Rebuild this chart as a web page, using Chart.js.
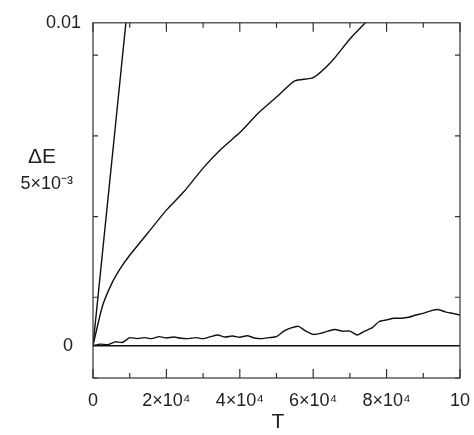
<!DOCTYPE html>
<html>
<head>
<script src="https://cdn.jsdelivr.net/npm/chart.js@4"></script>
<style>body{margin:0;background:#fff}#wrap{width:474px;height:435px}</style>
</head>
<body>
<div id="wrap"><canvas id="c"></canvas></div>
<script>
// bottom noisy series, T step 2000
const lowT = [];
for (let i = 0; i <= 50; i++) lowT.push(i * 2000);
const lowE = [0, 0.00005, 0.00003, 0.00012, 0.0001, 0.00025, 0.00022, 0.00025, 0.00022, 0.00028,
  0.00024, 0.00027, 0.00023, 0.00022, 0.00025, 0.00022, 0.00028, 0.00033, 0.00027, 0.0003,
  0.00026, 0.00031, 0.00024, 0.00022, 0.00025, 0.00028, 0.00045, 0.00055, 0.0006, 0.00045,
  0.00035, 0.00038, 0.00045, 0.0005, 0.00045, 0.00045, 0.00033, 0.00045, 0.00055, 0.00075,
  0.0008, 0.00085, 0.00085, 0.00088, 0.00095, 0.001, 0.00108, 0.00112, 0.00105, 0.001, 0.00095];
const midT = [0, 2500, 5000, 7500, 10000, 15000, 20000, 25000, 30000, 35000, 40000, 45000, 50000, 55000, 60000, 65000, 70000, 75000, 80000];
const midE = [0, 0.0012, 0.0019, 0.0024, 0.0028, 0.0035, 0.0042, 0.0048, 0.0055, 0.0061, 0.0066, 0.0072, 0.0077, 0.0082, 0.0083, 0.0088, 0.0095, 0.0101, 0.0108];
const steepT = [0, 9500];
const steepE = [0, 0.0106];
const zeroT = [0, 100000];
const zeroE = [0, 0];
const xTicks = [0, 20000, 40000, 60000, 80000, 100000];
const xLabels = ['0', '2×10⁴', '4×10⁴', '6×10⁴', '8×10⁴', '10'];
const yTicks = [0, 0.005];
const yLabels = ['0', '5×10⁻³'];
const yTopLabel = '0.01';

const pts = (xs, ys) => xs.map((x, i) => ({x: x, y: ys[i]}));
const line = (xs, ys) => ({data: pts(xs, ys), borderColor: '#111', borderWidth: 1.4, pointRadius: 0, tension: 0.2});

const frame = {
  id: 'frame',
  afterDraw(chart) {
    const {ctx, chartArea: a, scales: {x, y}} = chart;
    ctx.save();
    ctx.strokeStyle = '#333';
    ctx.lineWidth = 1.2;
    ctx.strokeRect(a.left, a.top, a.right - a.left, a.bottom - a.top);
    for (let v = 0; v <= 100000; v += 10000) {
      const px = x.getPixelForValue(v), len = v % 20000 === 0 ? 9 : 5;
      ctx.beginPath();
      ctx.moveTo(px, a.bottom); ctx.lineTo(px, a.bottom - len);
      ctx.moveTo(px, a.top); ctx.lineTo(px, a.top + len);
      ctx.stroke();
    }
    for (let v = -0.001; v <= 0.01; v += 0.0025) {
      const py = y.getPixelForValue(v), len = Math.abs(v / 0.005 - Math.round(v / 0.005)) < 1e-6 ? 9 : 5;
      ctx.beginPath();
      ctx.moveTo(a.left, py); ctx.lineTo(a.left + len, py);
      ctx.moveTo(a.right, py); ctx.lineTo(a.right - len, py);
      ctx.stroke();
    }
    ctx.fillStyle = '#222';
    ctx.font = '18px "Liberation Sans"';
    ctx.textAlign = 'right';
    ctx.textBaseline = 'middle';
    ctx.fillText(yTopLabel, a.left - 12, y.getPixelForValue(0.01));
    ctx.font = '21px "Liberation Sans"';
    ctx.textAlign = 'center';
    ctx.fillText('ΔE', 42, 157);
    ctx.fillText('T', 278, 422);
    ctx.restore();
  }
};

new Chart(document.getElementById('c'), {
  type: 'line',
  data: {datasets: [line(lowT, lowE), line(midT, midE), line(steepT, steepE), line(zeroT, zeroE)]},
  options: {
    responsive: true, maintainAspectRatio: false, animation: false,
    layout: {padding: {top: 5, right: 10, left: 0, bottom: 0}},
    plugins: {legend: {display: false}, tooltip: {enabled: false}},
    scales: {
      x: {
        type: 'linear', min: 0, max: 100000,
        grid: {display: false}, border: {display: false},
        afterBuildTicks: s => { s.ticks = xTicks.map(v => ({value: v})); },
        afterFit: s => { s.height = 57; },
        ticks: {autoSkip: false, maxRotation: 0, padding: 4, color: '#222', font: {family: 'Liberation Sans', size: 18},
          callback: v => xLabels[xTicks.indexOf(v)]}
      },
      y: {
        min: -0.001, max: 0.01,
        grid: {display: false}, border: {display: false},
        afterBuildTicks: s => { s.ticks = yTicks.map(v => ({value: v})); },
        afterFit: s => { s.width = 93; },
        ticks: {autoSkip: false, padding: 12, color: '#222', font: {family: 'Liberation Sans', size: 18},
          callback: v => yLabels[yTicks.indexOf(v)]}
      }
    }
  },
  plugins: [frame]
});
</script>
</body>
</html>
